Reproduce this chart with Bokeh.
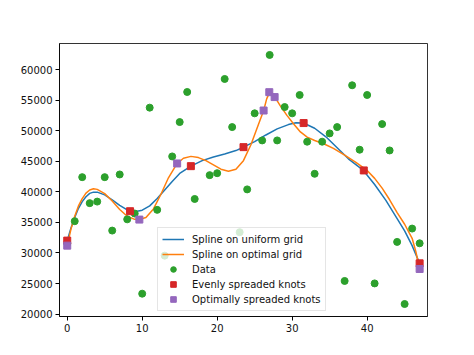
from bokeh.plotting import figure
from bokeh.models import FixedTicker, Range1d
from bokeh.embed import file_html
from bokeh.resources import INLINE

# ---- data ----
data_x = [0, 1, 2, 3, 4, 5, 6, 7, 8, 9, 10, 11, 12, 13, 14, 15, 16, 17,
          19, 20, 21, 22, 23, 24, 25, 26, 27, 28, 29, 30, 31, 32, 33, 34,
          35, 36, 37, 38, 39, 40, 41, 42, 43, 44, 45, 46, 47]
data_y = [31600, 35200, 42400, 38150, 38400, 42400, 33660, 42840, 35500, 36450,
          23340, 53770, 37050, 29560, 45790, 51410, 56330, 38830,
          42730, 43050, 58460, 50590, 33400, 40400, 52840, 48410, 62390, 48410,
          53870, 52840, 55840, 48200, 42950, 48200, 49560, 50590, 25420, 57430,
          46890, 55840, 25020, 51080, 46770, 31810, 21650, 33990, 31580]

even_knots_x = [0, 8.38, 16.49, 23.51, 31.53, 39.55, 47]
even_knots_y = [32020, 36830, 44200, 47310, 51250, 43500, 28300]

opt_knots_x = [0, 9.62, 14.66, 26.19, 26.95, 27.66, 47]
opt_knots_y = [31200, 35460, 44640, 53300, 56300, 55500, 27380]

uniform_x = [0, 0.5, 1, 1.5, 2, 2.5, 3, 3.5, 4, 5, 6, 7, 8, 8.4, 9, 10, 11, 12,
             13, 14, 15, 16.5, 18, 19.5, 21, 22.5, 23.5, 25, 26.5, 28, 29.5,
             30.5, 31.5, 33, 34.5, 36, 37.5, 39.5, 41, 42.5, 44, 45, 46, 47]
uniform_y = [32020, 34100, 35800, 37300, 38400, 39200, 39750, 39950, 39950,
             39500, 38700, 37800, 37050, 36830, 36750, 37000, 37700, 38900,
             40300, 41700, 43000, 44200, 45100, 45700, 46200, 46750, 47300,
             48200, 49300, 50300, 51000, 51300, 51250, 50400, 49000, 47200,
             45400, 43500, 41200, 38600, 35600, 33600, 31200, 28300]

optimal_x = [0, 0.5, 1, 1.5, 2, 2.5, 3, 3.5, 4, 5, 6, 7, 8, 9, 9.6, 10.5, 11.5,
             12.5, 13.5, 14.66, 15.5, 16.5, 17.5, 18.5, 19.5, 20.5, 21.5, 22.5,
             23.5, 24.5, 25.5, 26.2, 26.6, 27, 27.3, 27.7, 28.4, 29.3, 30.2,
             31.1, 32, 33, 34.2, 35.5, 37, 38.5, 40, 41, 42, 43, 44, 45, 46,
             46.5, 47]
optimal_y = [31200, 33900, 36000, 37700, 38900, 39800, 40300, 40500, 40400,
             39700, 38500, 37100, 36000, 35500, 35460, 35800, 37200, 39600,
             42300, 44640, 45500, 45800, 45600, 45100, 44400, 43700, 43380,
             43700, 45100, 47700, 51000, 53300, 55200, 56300, 56200, 55500,
             54100, 52500, 51100, 49800, 48950, 48400, 47870, 47100, 46000,
             44800, 43500, 42200, 40600, 38700, 36600, 34700, 32400, 30200,
             27380]

x_ticks = [0, 10, 20, 30, 40]
y_ticks = [20000, 25000, 30000, 35000, 40000, 45000, 50000, 55000, 60000]

p = figure(width=474, height=355, output_backend="svg", toolbar_location=None,
           title=None,
           x_range=Range1d(-1.03, 48.05), y_range=Range1d(19607, 64262),
           min_border_left=59, min_border_right=47,
           min_border_top=43, min_border_bottom=39)

p.line(uniform_x, uniform_y, color="#1f77b4", line_width=1.5,
       legend_label="Spline on uniform grid")
p.line(optimal_x, optimal_y, color="#ff7f0e", line_width=1.5,
       legend_label="Spline on optimal grid")
p.scatter(data_x, data_y, marker="circle", size=7, color="#2ca02c",
          legend_label="Data")
p.scatter(even_knots_x, even_knots_y, marker="square", size=7, color="#d62728",
          legend_label="Evenly spreaded knots")
p.scatter(opt_knots_x, opt_knots_y, marker="square", size=7, color="#9467bd",
          legend_label="Optimally spreaded knots")

p.grid.visible = False
p.outline_line_color = "black"
p.outline_line_width = 1
p.outline_line_alpha = 0.8

p.xaxis.ticker = FixedTicker(ticks=x_ticks)
p.yaxis.ticker = FixedTicker(ticks=y_ticks)
p.yaxis.major_label_overrides = {t: str(t) for t in y_ticks}
for ax in (p.xaxis, p.yaxis):
    ax.axis_line_color = "black"
    ax.axis_line_alpha = 0.8
    ax.major_tick_line_color = "black"
    ax.major_tick_out = 4
    ax.major_tick_in = 0
    ax.minor_tick_line_color = None
    ax.major_label_text_font = "DejaVu Sans"
    ax.major_label_text_font_size = "10px"
    ax.major_label_text_color = "#111111"
    ax.major_label_standoff = 3

lg = p.legend[0]
lg.location = (98, 5)
lg.margin = 0
lg.padding = 4
lg.spacing = 1
lg.glyph_width = 22
lg.glyph_height = 14
lg.label_height = 14
lg.label_standoff = 8
lg.label_text_font = "DejaVu Sans"
lg.label_text_font_size = "10px"
lg.label_text_color = "#111111"
lg.border_line_color = "#cccccc"
lg.border_line_width = 1
lg.background_fill_color = "white"
lg.background_fill_alpha = 0.8

open("out.html", "w").write(file_html(p, INLINE))
